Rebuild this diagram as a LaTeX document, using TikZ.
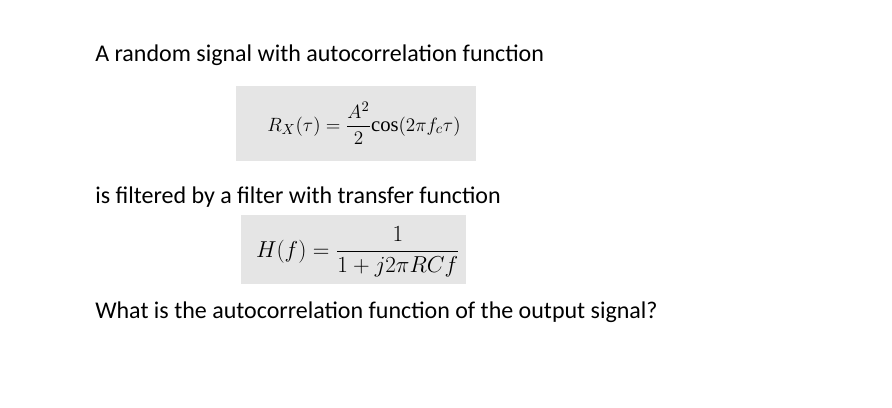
\documentclass[tikz,border=0pt]{standalone}
\usepackage{amsmath}
\usepackage{fontspec}
\setmainfont{Carlito}
\newfontfamily\frm{Liberation Serif}
\begin{document}
\begin{tikzpicture}[x=0.75pt,y=-0.75pt,
  txt/.style={anchor=base west,inner sep=0,font=\fontsize{18pt}{20pt}\selectfont}]
\useasboundingbox (0,0) rectangle (892,407);
\node[txt] (t1) at (95,61) {A random signal with autocorrelation function};
\fill[black!10] (236,86) rectangle (476,161);
\node (f1) at (364,123) {\fontsize{15.5pt}{17pt}\selectfont$R_X(\tau)=\dfrac{A^2}{2}\text{\frm cos}(2\pi f_c\tau)$};
\node[txt] (t2) at (95,203) {is filtered by a filter with transfer function};
\fill[black!10] (241,215) rectangle (466,284);
\node (f2) at (358,252) {\fontsize{16.5pt}{18pt}\selectfont$H(f)=\dfrac{1}{1+j2\pi RCf}$};
\node[txt] (t3) at (95,318) {What is the autocorrelation function of the output signal?};
\end{tikzpicture}
\end{document}
